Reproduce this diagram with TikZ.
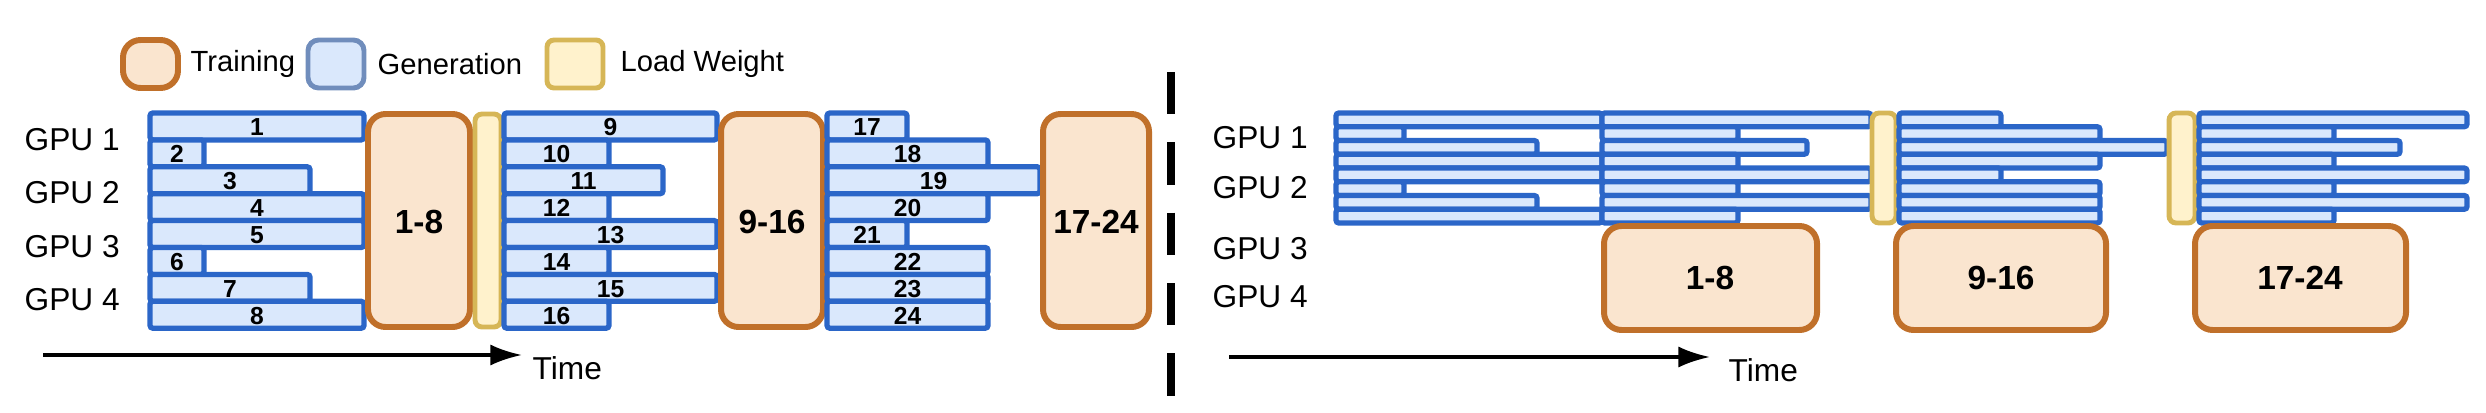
\documentclass[tikz,border=0pt]{standalone}
\usepackage{fontspec}
\setmainfont{Liberation Sans}
\usetikzlibrary{arrows.meta}
\definecolor{genfill}{HTML}{DAE8FC}
\definecolor{gendraw}{HTML}{2B66C8}
\definecolor{trfill}{HTML}{FAE5CF}
\definecolor{trdraw}{HTML}{C0702A}
\definecolor{lwfill}{HTML}{FFF2CC}
\definecolor{lwdraw}{HTML}{D6B656}
\tikzset{
  gen/.style={fill=genfill,draw=gendraw,line width=1.5pt,rounded corners=0.8pt},
  genleg/.style={fill=genfill,draw=gendraw!60!gray!80,line width=1.4pt,rounded corners=3pt},
  train/.style={fill=trfill,draw=trdraw,line width=1.7pt,rounded corners=5pt},
  load/.style={fill=lwfill,draw=lwdraw,line width=1.4pt,rounded corners=2pt},
  num/.style={font=\bfseries\fontsize{7}{8}\selectfont,inner sep=0pt},
  big/.style={font=\bfseries\fontsize{9.5}{11}\selectfont},
  lab/.style={font=\fontsize{9}{11}\selectfont,inner sep=0pt},
  leg/.style={font=\fontsize{8.3}{10}\selectfont,inner sep=0pt},
}
% one generation bar: x1, x2, row, label
\newcommand\gb[4]{%
  \pgfmathsetmacro\ya{\gtop+#3*\gh}\pgfmathsetmacro\yb{\ya+\gh}%
  \draw[gen] (#1,\ya) rectangle (#2,\yb);
  \node[num] at ({(#1+#2)/2},{(\ya+\yb)/2+1}) {#4};}
\begin{document}
\begin{tikzpicture}[x=0.01cm,y=-0.01cm]
\useasboundingbox (0,0) rectangle (2486,412);
% legend
\draw[train] (123,40) rectangle (178,88);
\node[leg,anchor=west] (lt) at (190,64) {Training};
\draw[genleg] (308,40) rectangle (364,88);
\node[leg,anchor=west] (lg) at (377,64) {Generation};
\draw[load] (547,40) rectangle (603,88);
\node[leg,anchor=west] (ll) at (620,64) {Load Weight};

% ---------- left: colocated ----------
\foreach \i/\y in {1/140,2/193,3/247,4/300}
  \node[lab,anchor=west] (gl\i) at (24,\y) {GPU \i};
\def\gtop{113}\def\gh{26.9}
\gb{150}{364}{0}{1}
\gb{150}{204}{1}{2}
\gb{150}{310}{2}{3}
\gb{150}{364}{3}{4}
\gb{150}{364}{4}{5}
\gb{150}{204}{5}{6}
\gb{150}{310}{6}{7}
\gb{150}{364}{7}{8}
\draw[train] (368,114) rectangle (470,327);
\node[big] (t1) at (419,222) {1-8};
\draw[load] (475,114) rectangle (501,327);
\gb{504}{717}{0}{9}
\gb{504}{609}{1}{10}
\gb{504}{663}{2}{11}
\gb{504}{609}{3}{12}
\gb{504}{717}{4}{13}
\gb{504}{609}{5}{14}
\gb{504}{717}{6}{15}
\gb{504}{609}{7}{16}
\draw[train] (721,114) rectangle (823,327);
\node[big] (t2) at (772,222) {9-16};
\gb{827}{907}{0}{17}
\gb{827}{988}{1}{18}
\gb{827}{1040}{2}{19}
\gb{827}{988}{3}{20}
\gb{827}{907}{4}{21}
\gb{827}{988}{5}{22}
\gb{827}{988}{6}{23}
\gb{827}{988}{7}{24}
\draw[train] (1043,114) rectangle (1149,327);
\node[big] (t3) at (1096,222) {17-24};
\coordinate (a1) at (43,355);
\coordinate (a2) at (522,355);
\draw[-{Latex[length=9pt,width=6pt]},line width=1pt] (a1) -- (a2);
\node[lab,anchor=west] (time1) at (532,368) {Time};

% separator
\draw[line width=2.2pt,dash pattern=on 12pt off 8pt] (1171,72) -- (1171,412);

% ---------- right: separated ----------
\foreach \i/\y in {1/138,2/188,3/249,4/297}
  \node[lab,anchor=west] (gr\i) at (1212,\y) {GPU \i};
\def\gtop{113}\def\gh{13.75}
\foreach \r/\e in {0/1602,1/1404,2/1537,3/1602,4/1602,5/1404,6/1537,7/1602}
  \gb{1336}{\e}{\r}{};
\foreach \r/\e in {0/1871,1/1738,2/1807,3/1738,4/1871,5/1738,6/1871,7/1738}
  \gb{1602}{\e}{\r}{};
\draw[load] (1872,113) rectangle (1896,223);
\foreach \r/\e in {0/2001,1/2100,2/2167,3/2100,4/2001,5/2100,6/2100,7/2100}
  \gb{1899}{\e}{\r}{};
\draw[load] (2169,113) rectangle (2195,223);
\foreach \r/\e in {0/2467,1/2334,2/2400,3/2334,4/2467,5/2334,6/2467,7/2334}
  \gb{2199}{\e}{\r}{};
\draw[train] (1604,226) rectangle (1817,330);
\node[big] (r1) at (1710,278) {1-8};
\draw[train] (1896,226) rectangle (2106,330);
\node[big] (r2) at (2001,278) {9-16};
\draw[train] (2195,226) rectangle (2406,330);
\node[big] (r3) at (2300,278) {17-24};
\coordinate (b1) at (1229,357);
\coordinate (b2) at (1710,357);
\draw[-{Latex[length=9pt,width=6pt]},line width=1pt] (b1) -- (b2);
\node[lab,anchor=west] (time2) at (1728,370) {Time};
\end{tikzpicture}
\end{document}
